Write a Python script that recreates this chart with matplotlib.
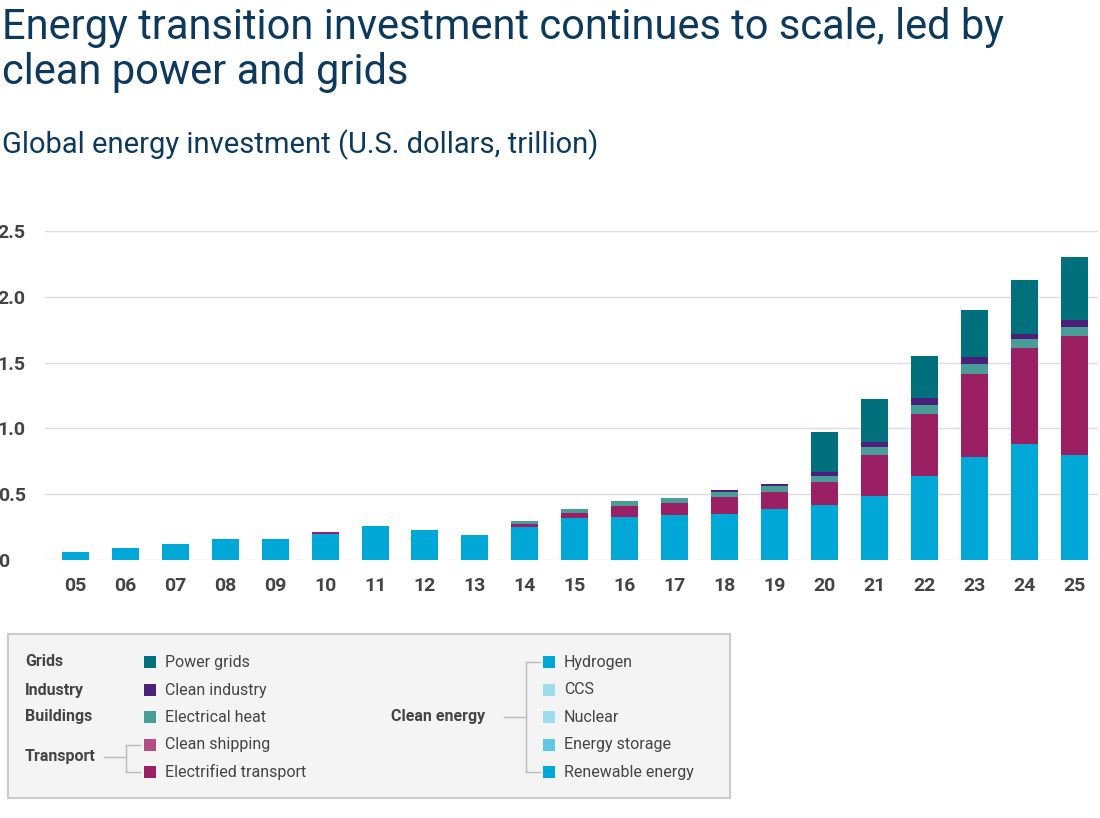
import numpy as np
import matplotlib
matplotlib.use("Agg")
import matplotlib.pyplot as plt
from matplotlib.patches import Rectangle

plt.rcParams['font.family'] = ['Roboto', 'DejaVu Sans']

years = ["05", "06", "07", "08", "09", "10", "11", "12", "13", "14", "15",
         "16", "17", "18", "19", "20", "21", "22", "23", "24", "25"]
renewable = [0.06, 0.09, 0.12, 0.16, 0.16, 0.20, 0.26, 0.23, 0.19, 0.25, 0.32,
             0.33, 0.34, 0.35, 0.39, 0.42, 0.49, 0.64, 0.785, 0.88, 0.80]
transport = [0, 0, 0, 0, 0, 0.015, 0, 0, 0, 0.02, 0.04,
             0.08, 0.09, 0.13, 0.13, 0.17, 0.31, 0.47, 0.625, 0.73, 0.90]
heat = [0, 0, 0, 0, 0, 0, 0, 0, 0, 0.025, 0.03,
        0.04, 0.04, 0.04, 0.04, 0.05, 0.06, 0.07, 0.08, 0.07, 0.07]
industry = [0, 0, 0, 0, 0, 0, 0, 0, 0, 0, 0,
            0, 0, 0.01, 0.02, 0.03, 0.04, 0.05, 0.055, 0.04, 0.05]
grids = [0, 0, 0, 0, 0, 0, 0, 0, 0, 0, 0,
         0, 0, 0, 0, 0.30, 0.32, 0.32, 0.355, 0.41, 0.48]

c_grid = "#00717c"
c_ind = "#4b1f7a"
c_heat = "#489e97"
c_ship = "#b34d84"
c_trans = "#9b1f63"
c_ren = "#00a8d8"
c_light = "#9ddcef"
c_store = "#5fc7e6"
navy = "#0d3a5c"

fig = plt.figure(figsize=(11, 8.18), dpi=100)
ax = fig.add_axes([0.041, 0.3154, 0.957, 0.4022])

x = np.arange(len(years))
bottom = np.zeros(len(years))
for vals, col in [(renewable, c_ren), (transport, c_trans), (heat, c_heat),
                  (industry, c_ind), (grids, c_grid)]:
    ax.bar(x, vals, 0.54, bottom=bottom, color=col, zorder=3)
    bottom += np.array(vals)

ax.set_xlim(-0.6, 20.46)
ax.set_ylim(0, 2.5)
ax.set_yticks([0, 0.5, 1.0, 1.5, 2.0, 2.5])
ax.set_yticklabels(["0", "0.5", "1.0", "1.5", "2.0", "2.5"])
ax.set_xticks(x)
ax.set_xticklabels(years)
ax.grid(axis="y", color="#dddddd", linewidth=1, zorder=0)
for s in ax.spines.values():
    s.set_visible(False)
ax.tick_params(length=0, labelsize=14, labelcolor="#444444", pad=12)
ax.tick_params(axis="y", pad=6)
for t in ax.get_xticklabels() + ax.get_yticklabels():
    t.set_fontweight("bold")
for t in ax.get_yticklabels():
    t.set_horizontalalignment("left")
    t.set_x(-0.037)

fig.text(0.002, 0.992, "Energy transition investment continues to scale, led by\nclean power and grids",
         fontsize=30, color=navy, va="top", linespacing=1.15)
fig.text(0.002, 0.842, "Global energy investment (U.S. dollars, trillion)",
         fontsize=21, color=navy, va="top")

# legend box
W, H = 1100, 818
def fx(px): return px / W
def fy(py): return 1 - py / H

fig.patches.append(Rectangle((fx(8), fy(798)), fx(730) - fx(8), fy(634) - fy(798),
                             transform=fig.transFigure, facecolor="#f4f4f4",
                             edgecolor="#cccccc", linewidth=1.5))

rows = [662, 690, 717, 745, 772]
left_items = [("Power grids", c_grid), ("Clean industry", c_ind), ("Electrical heat", c_heat),
              ("Clean shipping", c_ship), ("Electrified transport", c_trans)]
right_items = [("Hydrogen", c_ren), ("CCS", c_light), ("Nuclear", c_light),
               ("Energy storage", c_store), ("Renewable energy", c_ren)]
groups = [("Grids", 662), ("Industry", 690), ("Buildings", 717), ("Transport", 757)]

def square(px, py, col):
    fig.patches.append(Rectangle((fx(px), fy(py + 6)), fx(12), fy(0) - fy(12),
                                 transform=fig.transFigure, facecolor=col, edgecolor="none"))

for (lab, col), py in zip(left_items, rows):
    square(144, py, col)
    fig.text(fx(165), fy(py), lab, fontsize=11.5, color="#444444", va="center")
for (lab, col), py in zip(right_items, rows):
    square(543, py, col)
    fig.text(fx(564), fy(py), lab, fontsize=11.5, color="#444444", va="center")
for lab, py in groups:
    fig.text(fx(25), fy(py), lab, fontsize=11.5, color="#444444", va="center", fontweight="bold")
fig.text(fx(391), fy(717), "Clean energy", fontsize=11.5, color="#444444", va="center",
         fontweight="bold")

lc = "#bbbbbb"
def line(xs, ys):
    fig.add_artist(plt.Line2D([fx(v) for v in xs], [fy(v) for v in ys], color=lc, lw=1,
                              transform=fig.transFigure))
# transport bracket
line([104, 126], [757, 757])
line([126, 126], [745, 772])
line([126, 140], [745, 745])
line([126, 140], [772, 772])
# clean energy bracket
line([504, 526], [717, 717])
line([526, 526], [662, 772])
line([526, 540], [662, 662])
line([526, 540], [772, 772])

fig.savefig("out.png", dpi=100)
